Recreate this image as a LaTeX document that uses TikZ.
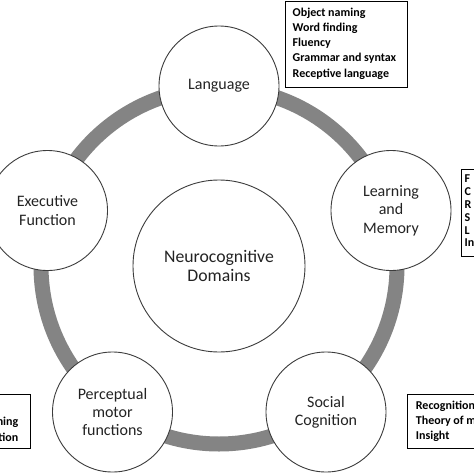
\documentclass[tikz,border=0pt]{standalone}
\usepackage{fontspec}
\setmainfont{Carlito}
\definecolor{ringgray}{RGB}{132,132,132}
\definecolor{edgegray}{RGB}{60,60,60}
\definecolor{ink}{RGB}{35,35,35}
\tikzset{
  dom/.style={circle, draw=edgegray, line width=0.9pt, fill=white, minimum size=120pt,
    inner sep=0pt, align=center, text=ink, font=\fontsize{16}{18.3}\selectfont},
  hub/.style={dom, minimum size=172pt, font=\fontsize{17.7}{19.5}\selectfont},
  listbox/.style={draw=black, line width=0.9pt, fill=white, inner sep=0pt},
  listtext/.style={inner sep=0pt, text=black, font=\bfseries\fontsize{12}{15.2}\selectfont},
  ring/.style={draw=ringgray, line width=15pt}
}
\begin{document}
\begin{tikzpicture}[x=1pt,y=-1pt]
\useasboundingbox (0,0) rectangle (474,474);
\clip (0,0) rectangle (474,474);
\fill[white] (0,0) rectangle (474,474);
\coordinate (c) at (219,266);
\draw[ring] (c) circle[radius=178];
\node[hub] (nd) at (c) {Neurocognitive\\Domains};
\node[dom] (lang) at (219,86) {Language};
\node[dom] (lm) at (391,210.5) {Learning\\and\\Memory};
\node[dom] (soc) at (326,412) {Social\\Cognition};
\node[dom] (perc) at (112.5,412) {Perceptual\\motor\\functions};
\node[dom] (exec) at (47.5,210.5) {Executive\\Function};
% lists
\node[listbox, minimum width=122pt, minimum height=86pt, anchor=north west] (langbox) at (285,0.5) {};
\node[listtext, align=left, anchor=west] (langtext) at (292.5,43.5)
  {Object naming\\Word finding\\Fluency\\Grammar and syntax\\Receptive language};
\node[listbox, minimum width=60pt, minimum height=87pt, anchor=north west] (lmbox) at (461,169) {};
\node[listtext, align=left, anchor=west, font=\bfseries\fontsize{12}{12.8}\selectfont] (lmtext) at (464.5,211)
  {F\\C\\R\\S\\L\\In};
\node[listbox, minimum width=100pt, minimum height=54pt, anchor=north west] (socbox) at (407.3,394.3) {};
\node[listtext, align=left, anchor=west] (soctext) at (415.7,421.3)
  {Recognition\\Theory of m\\Insight};
\node[listbox, minimum width=80pt, minimum height=54pt, anchor=north east] (percbox) at (31,394.3) {};
\node[listtext, align=right, anchor=east] (perctext) at (18.5,429.3) {ning\\ition};
\end{tikzpicture}
\end{document}
